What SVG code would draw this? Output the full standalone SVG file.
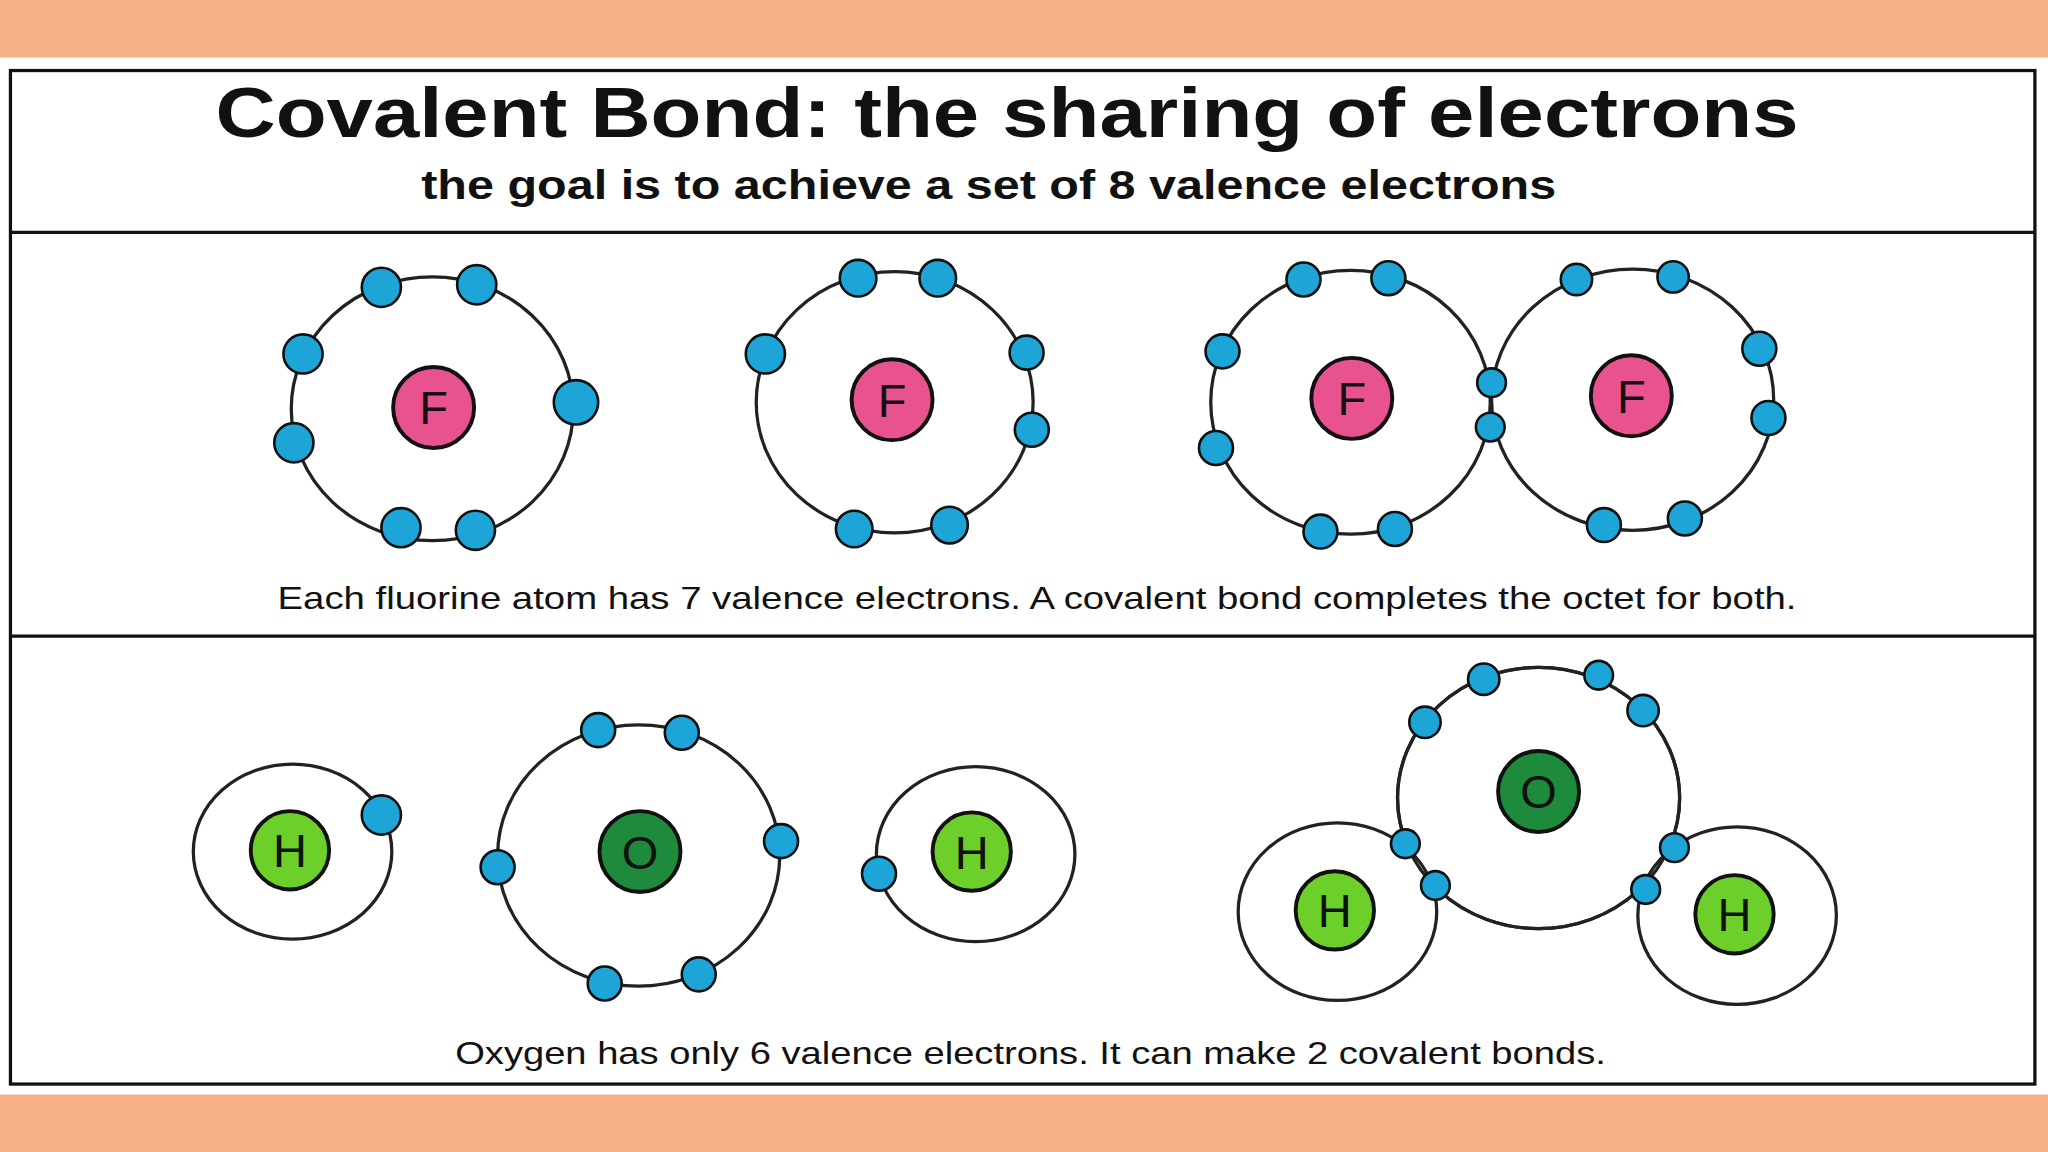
<svg xmlns="http://www.w3.org/2000/svg" width="2048" height="1152" viewBox="0 0 2048 1152">
<style>
.t{font-family:"Liberation Sans",Arial,sans-serif;fill:#111;text-anchor:middle}
.orb{fill:none;stroke:#222;stroke-width:2.5}
.ob{fill:#fff;stroke:#222;stroke-width:2.5}
.e{fill:#1CA5D6;stroke:#111;stroke-width:2}
.nf{fill:#E8538F;stroke:#111;stroke-width:3}
.nh{fill:#6CCF2A;stroke:#111;stroke-width:3}
.no{fill:#1E8B3C;stroke:#111;stroke-width:3}
.lbl{font-family:"Liberation Sans",Arial,sans-serif;font-size:36px;fill:#111;text-anchor:middle}
</style>
<rect width="2048" height="1152" fill="#fff"/>
<g transform="scale(1.3061)">
<rect x="0" y="0" width="1568" height="44" fill="#F5B088"/>
<rect x="0" y="838" width="1568" height="44" fill="#F5B088"/>
<rect x="8" y="54" width="1550" height="776" fill="none" stroke="#111" stroke-width="2.5"/>
<line x1="8" y1="178" x2="1558" y2="178" stroke="#111" stroke-width="2.5"/>
<line x1="8" y1="487" x2="1558" y2="487" stroke="#111" stroke-width="2.5"/>
<text class="t" x="771" y="105" font-size="54" font-weight="bold" textLength="1212" lengthAdjust="spacingAndGlyphs">Covalent Bond: the sharing of electrons</text>
<text class="t" x="757" y="152" font-size="31" font-weight="bold" textLength="869" lengthAdjust="spacingAndGlyphs">the goal is to achieve a set of 8 valence electrons</text>
<text class="t" x="794" y="466" font-size="24" textLength="1163" lengthAdjust="spacingAndGlyphs">Each fluorine atom has 7 valence electrons. A covalent bond completes the octet for both.</text>
<text class="t" x="789" y="815" font-size="24" textLength="881" lengthAdjust="spacingAndGlyphs">Oxygen has only 6 valence electrons. It can make 2 covalent bonds.</text>

<g id="F1">
<ellipse class="orb" cx="331" cy="313" rx="108" ry="101"/>
<circle class="nf" cx="332" cy="312" r="31"/><text class="lbl" x="332" y="325">F</text>
<circle class="e" cx="292" cy="220" r="15"/><circle class="e" cx="365" cy="218" r="15"/><circle class="e" cx="232" cy="271" r="15"/><circle class="e" cx="225" cy="339" r="15"/><circle class="e" cx="441" cy="308" r="17"/><circle class="e" cx="307" cy="404" r="15"/><circle class="e" cx="364" cy="406" r="15"/>
</g>
<g id="F2">
<ellipse class="orb" cx="685" cy="308" rx="106" ry="100"/>
<circle class="nf" cx="683" cy="306" r="31"/><text class="lbl" x="683" y="319">F</text>
<circle class="e" cx="657" cy="213" r="14"/><circle class="e" cx="718" cy="213" r="14"/><circle class="e" cx="586" cy="271" r="15"/><circle class="e" cx="786" cy="270" r="13"/><circle class="e" cx="790" cy="329" r="13"/><circle class="e" cx="654" cy="405" r="14"/><circle class="e" cx="727" cy="402" r="14"/>
</g>
<g id="F3">
<ellipse class="orb" cx="1034" cy="308" rx="107" ry="101"/>
<circle class="nf" cx="1035" cy="305" r="31"/><text class="lbl" x="1035" y="318">F</text>
<circle class="e" cx="998" cy="214" r="13"/><circle class="e" cx="1063" cy="213" r="13"/><circle class="e" cx="936" cy="269" r="13"/><circle class="e" cx="931" cy="343" r="13"/><circle class="e" cx="1011" cy="407" r="13"/><circle class="e" cx="1068" cy="405" r="13"/>
</g>
<g id="F4">
<ellipse class="orb" cx="1250" cy="306" rx="108" ry="100"/>
<circle class="nf" cx="1249" cy="303" r="31"/><text class="lbl" x="1249" y="316">F</text>
<circle class="e" cx="1207" cy="214" r="12"/><circle class="e" cx="1281" cy="212" r="12"/><circle class="e" cx="1347" cy="267" r="13"/><circle class="e" cx="1354" cy="320" r="13"/><circle class="e" cx="1228" cy="402" r="13"/><circle class="e" cx="1290" cy="397" r="13"/>
</g>
<g id="F2bond"><circle class="e" cx="1142" cy="293" r="11"/><circle class="e" cx="1141" cy="327" r="11"/></g>

<g id="H1">
<ellipse class="ob" cx="224" cy="652" rx="76" ry="67"/>
<circle class="nh" cx="222" cy="651" r="30"/><text class="lbl" x="222" y="664">H</text>
<circle class="e" cx="292" cy="624" r="15"/>
</g>
<g id="O1">
<ellipse class="orb" cx="489" cy="655" rx="108" ry="100"/>
<circle class="no" cx="490" cy="652" r="31"/><text class="lbl" x="490" y="665">O</text>
<circle class="e" cx="458" cy="559" r="13"/><circle class="e" cx="522" cy="561" r="13"/><circle class="e" cx="381" cy="664" r="13"/><circle class="e" cx="598" cy="644" r="13"/><circle class="e" cx="463" cy="753" r="13"/><circle class="e" cx="535" cy="746" r="13"/>
</g>
<g id="H2">
<ellipse class="ob" cx="747" cy="654" rx="76" ry="67"/>
<circle class="nh" cx="744" cy="652" r="30"/><text class="lbl" x="744" y="665">H</text>
<circle class="e" cx="673" cy="669" r="13"/>
</g>
<g id="Water">
<ellipse class="ob" cx="1178" cy="611" rx="108" ry="100"/>
<ellipse class="ob" cx="1024" cy="698" rx="76" ry="68"/>
<ellipse class="ob" cx="1330" cy="701" rx="76" ry="68"/>
<ellipse class="orb" cx="1178" cy="611" rx="108" ry="100"/>
<circle class="no" cx="1178" cy="606" r="31"/><text class="lbl" x="1178" y="619">O</text>
<circle class="nh" cx="1022" cy="697" r="30"/><text class="lbl" x="1022" y="710">H</text>
<circle class="nh" cx="1328" cy="700" r="30"/><text class="lbl" x="1328" y="713">H</text>
<circle class="e" cx="1136" cy="520" r="12"/><circle class="e" cx="1224" cy="517" r="11"/><circle class="e" cx="1091" cy="553" r="12"/><circle class="e" cx="1258" cy="544" r="12"/><circle class="e" cx="1076" cy="646" r="11"/><circle class="e" cx="1099" cy="678" r="11"/><circle class="e" cx="1282" cy="649" r="11"/><circle class="e" cx="1260" cy="681" r="11"/>
</g>
</g>
</svg>
